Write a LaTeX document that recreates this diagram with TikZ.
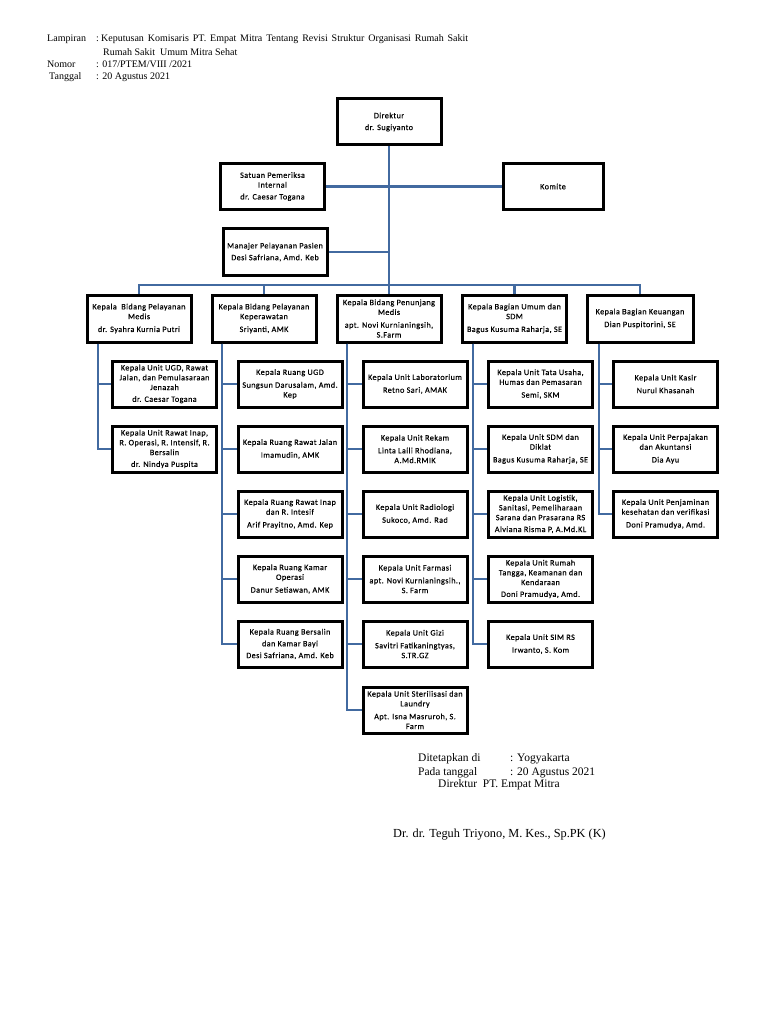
\documentclass[tikz,border=0pt]{standalone}
\usepackage{fontspec}
\setmainfont{Liberation Serif}
\newfontfamily\boxfont[LetterSpace=5.0,FakeBold=0.3]{Carlito}
\definecolor{linecol}{RGB}{66,106,160}
\newcommand\bl[1]{\makebox[0pt][c]{#1}}
\begin{document}
\begin{tikzpicture}[x=1pt,y=-1pt,
  box/.style={draw=black, line width=3pt, fill=white, minimum width=104pt, minimum height=46pt,
    inner sep=0.5pt, align=center, font=\boxfont\fontsize{8.2}{9.8}\selectfont},
  conn/.style={draw=linecol, line width=2.8pt},
  hdr/.style={inner sep=0pt, anchor=base west, font=\fontsize{10}{11}\selectfont},
  sig/.style={inner sep=0pt, anchor=base west, font=\fontsize{11.5}{13}\selectfont}]
\useasboundingbox (0,0) rectangle (768,1024);
\fill[white] (0,0) rectangle (768,1024);

% header
\node[hdr] (h1) at (47,42) {Lampiran};
\node[hdr] (h1c) at (96,42) {:};
\node[hdr] (h1b) at (101,42) {\makebox[367pt][s]{Keputusan Komisaris PT. Empat Mitra Tentang Revisi Struktur Organisasi Rumah Sakit}};
\node[hdr] (h2b) at (103,56) {Rumah Sakit\ \ Umum Mitra Sehat};
\node[hdr] (h3) at (47,68) {Nomor};
\node[hdr] (h3b) at (96,68) {: 017/PTEM/VIII /2021};
\node[hdr] (h4) at (49,80) {Tanggal};
\node[hdr] (h4b) at (96,80) {: 20 Agustus 2021};

% top boxes
\node[box] (dir) at (389,122) {\bl{Direktur}\\[2pt]\bl{dr. Sugiyanto}};
\node[box] (sat) at (272.5,186.5) {\bl{Satuan Pemeriksa}\\\bl{Internal}\\[2pt]\bl{dr. Caesar Togana}};
\node[box, minimum width=100pt] (kom) at (553,186.5) {\bl{Komite}};
\node[box] (man) at (275,252) {\bl{Manajer Pelayanan Pasien}\\[2pt]\bl{Desi Safriana, Amd. Keb}};

% level 2
\node[box, minimum height=47pt] (l1) at (139,318.5) {\bl{Kepala\ \ Bidang Pelayanan}\\\bl{Medis}\\[3pt]\bl{dr. Syahra Kurnia Putri}};
\node[box, minimum height=47pt] (l2) at (264,318.5) {\bl{Kepala Bidang Pelayanan}\\\bl{Keperawatan}\\[3pt]\bl{Sriyanti, AMK}};
\node[box, minimum height=47pt] (l3) at (389,318.5) {\bl{Kepala Bidang Penunjang}\\\bl{Medis}\\[3pt]\bl{apt. Novi Kurnianingsih,}\\\bl{S.Farm}};
\node[box, minimum height=47pt] (l4) at (514.5,318.5) {\bl{Kepala Bagian Umum dan}\\\bl{SDM}\\[3pt]\bl{Bagus Kusuma Raharja, SE}};
\node[box, minimum height=47pt, minimum width=106pt] (l5) at (640,318.5) {\bl{Kepala Bagian Keuangan}\\[3pt]\bl{Dian Puspitorini, SE}};

% col 1 children
\node[box] (c11) at (164.5,384) {\bl{Kepala Unit UGD, Rawat}\\\bl{Jalan, dan Pemulasaraan}\\\bl{Jenazah}\\[2pt]\bl{dr. Caesar Togana}};
\node[box] (c12) at (164.5,449) {\bl{Kepala Unit Rawat Inap,}\\\bl{R. Operasi, R. Intensif, R.}\\\bl{Bersalin}\\[2pt]\bl{dr. Nindya Puspita}};

% col 2 children
\node[box] (c21) at (290,384) {\bl{Kepala Ruang UGD}\\[3pt]\bl{Sungsun Darusalam, Amd.}\\\bl{Kep}};
\node[box] (c22) at (290,449) {\bl{Kepala Ruang Rawat Jalan}\\[3pt]\bl{Imamudin, AMK}};
\node[box] (c23) at (290,514) {\bl{Kepala Ruang Rawat Inap}\\\bl{dan R. Intesif}\\[3pt]\bl{Arif Prayitno, Amd. Kep}};
\node[box] (c24) at (290,579) {\bl{Kepala Ruang Kamar}\\\bl{Operasi}\\[3pt]\bl{Danur Setiawan, AMK}};
\node[box] (c25) at (290,644) {\bl{Kepala Ruang Bersalin}\\[2pt]\bl{dan Kamar Bayi}\\[2pt]\bl{Desi Safriana, Amd. Keb}};

% col 3 children
\node[box] (c31) at (415,384) {\bl{Kepala Unit Laboratorium}\\[3pt]\bl{Retno Sari, AMAK}};
\node[box] (c32) at (415,449) {\bl{Kepala Unit Rekam}\\[3pt]\bl{Linta Laili Rhodiana,}\\\bl{A.Md.RMIK}};
\node[box] (c33) at (415,514) {\bl{Kepala Unit Radiologi}\\[3pt]\bl{Sukoco, Amd. Rad}};
\node[box] (c34) at (415,579) {\bl{Kepala Unit Farmasi}\\[3pt]\bl{apt. Novi Kurnianingsih.,}\\\bl{S. Farm}};
\node[box] (c35) at (415,644) {\bl{Kepala Unit Gizi}\\[3pt]\bl{Savitri Fatikaningtyas,}\\\bl{S.TR.GZ}};
\node[box] (c36) at (415,710) {\bl{Kepala Unit Sterilisasi dan}\\\bl{Laundry}\\[3pt]\bl{Apt. Isna Masruroh, S.}\\\bl{Farm}};

% col 4 children
\node[box] (c41) at (540.5,384) {\bl{Kepala Unit Tata Usaha,}\\\bl{Humas dan Pemasaran}\\[3pt]\bl{Semi, SKM}};
\node[box] (c42) at (540.5,449) {\bl{Kepala Unit SDM dan}\\\bl{Diklat}\\[3pt]\bl{Bagus Kusuma Raharja, SE}};
\node[box] (c43) at (540.5,514) {\bl{Kepala Unit Logistik,}\\\bl{Sanitasi, Pemeliharaan}\\\bl{Sarana dan Prasarana RS}\\[2pt]\bl{Alviana Risma P, A.Md.KL}};
\node[box] (c44) at (540.5,579) {\bl{Kepala Unit Rumah}\\\bl{Tangga, Keamanan dan}\\\bl{Kendaraan}\\[2pt]\bl{Doni Pramudya, Amd.}};
\node[box] (c45) at (540.5,644) {\bl{Kepala Unit SIM RS}\\[3pt]\bl{Irwanto, S. Kom}};

% col 5 children
\node[box] (c51) at (665.5,384) {\bl{Kepala Unit Kasir}\\[3pt]\bl{Nurul Khasanah}};
\node[box] (c52) at (665.5,449) {\bl{Kepala Unit Perpajakan}\\\bl{dan Akuntansi}\\[3pt]\bl{Dia Ayu}};
\node[box] (c53) at (665.5,514) {\bl{Kepala Unit Penjaminan}\\\bl{kesehatan dan verifikasi}\\[3pt]\bl{Doni Pramudya, Amd.}};

% connectors top
\coordinate (bus) at (389,285);
\draw[conn] (dir.south) -- (l3.north);
\draw[conn] (sat.east) -- (kom.west);
\draw[conn] (man.east) -- (man.east -| dir.south);
\draw[conn] (l1.north) |- (bus) -| (l5.north);
\draw[conn] (l2.north) -- (l2.north |- bus);
\draw[conn] (l4.north) -- (l4.north |- bus);

% column trunks
\coordinate (v1) at (98,0);
\coordinate (v2) at (222,0);
\coordinate (v3) at (347,0);
\coordinate (v4) at (473,0);
\coordinate (v5) at (599,0);
\foreach \c in {c11,c12} \draw[conn] (l1.south -| v1) |- (\c.west);
\foreach \c in {c21,c22,c23,c24,c25} \draw[conn] (l2.south -| v2) |- (\c.west);
\foreach \c in {c31,c32,c33,c34,c35,c36} \draw[conn] (l3.south -| v3) |- (\c.west);
\foreach \c in {c41,c42,c43,c44,c45} \draw[conn] (l4.south -| v4) |- (\c.west);
\foreach \c in {c51,c52,c53} \draw[conn] (l5.south -| v5) |- (\c.west);

% signature
\node[sig] (s1) at (418,761) {Ditetapkan di};
\node[sig] (s1b) at (510,761) {: Yogyakarta};
\node[sig] (s2) at (418,775) {Pada tanggal};
\node[sig] (s2b) at (510,775) {: 20 Agustus 2021};
\node[sig] (s3) at (438,787) {Direktur\ \ PT. Empat Mitra};
\node[sig, font=\fontsize{12.3}{13}\selectfont] (s4) at (393,837) {Dr. dr. Teguh Triyono, M. Kes., Sp.PK (K)};
\end{tikzpicture}
\end{document}
